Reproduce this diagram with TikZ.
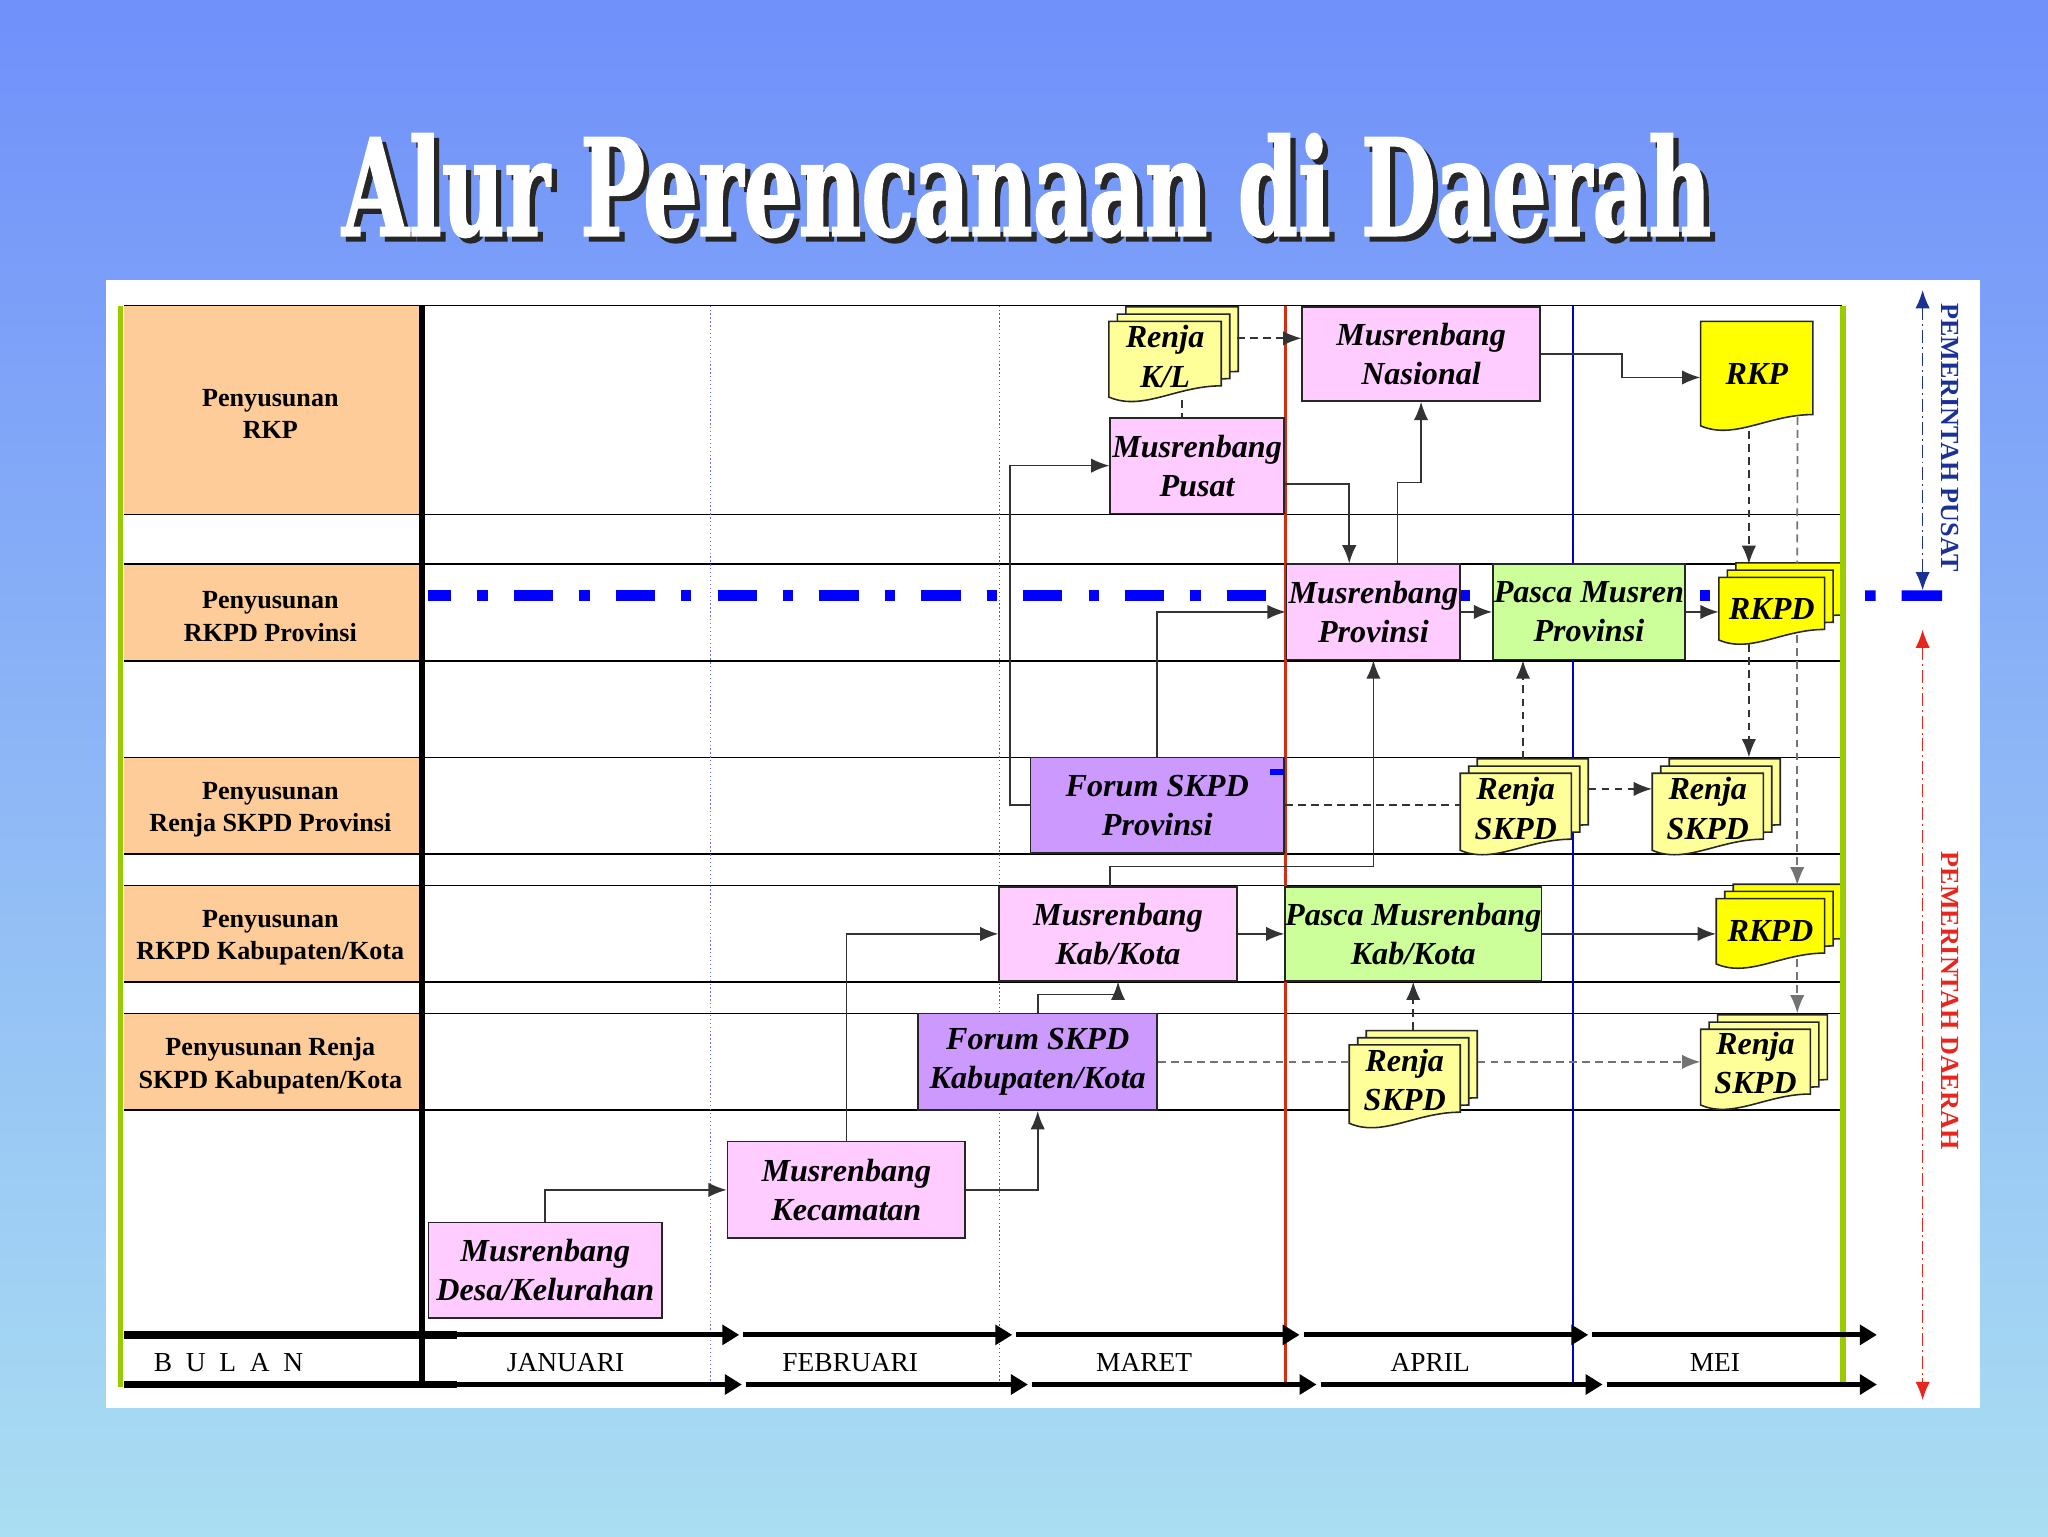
\documentclass[tikz,border=0pt]{standalone}
\usepackage{graphicx}
\usepackage{fontspec}
\setmainfont{Liberation Serif}
\newfontfamily\judulfont[FakeBold=1.5]{DejaVu Serif}
\usepackage{tikz}
\usetikzlibrary{calc,arrows.meta}

\definecolor{latar1}{RGB}{112,144,250}
\definecolor{latar2}{RGB}{170,222,242}
\definecolor{oranye}{RGB}{253,204,153}
\definecolor{merahmuda}{RGB}{255,204,255}
\definecolor{ungu}{RGB}{204,153,255}
\definecolor{hijaumuda}{RGB}{204,255,153}
\definecolor{kuningmuda}{RGB}{255,255,153}
\definecolor{kuning}{RGB}{255,255,0}
\definecolor{hijaugaris}{RGB}{153,204,0}
\definecolor{merahbulan}{RGB}{208,48,16}
\definecolor{birubulan}{RGB}{0,0,204}
\definecolor{birutitik}{RGB}{110,110,230}
\definecolor{hijautitik}{RGB}{0,160,0}
\definecolor{birupusat}{RGB}{26,50,150}
\definecolor{merahdaerah}{RGB}{232,38,30}

\newcommand{\hurufkotak}{\fontsize{24.6}{30}\selectfont\bfseries\itshape}
\newcommand{\hurufkepala}{\fontsize{20}{25}\selectfont\bfseries}
\newcommand{\hurufbulan}{\fontsize{21}{25}\selectfont}
\newcommand{\hurufpemerintah}{\fontsize{20}{24}\selectfont\bfseries}
\newcommand{\teksjudul}{\resizebox{1048pt}{78pt}{\judulfont\bfseries Alur Perencanaan di Daerah}}

% satu lembar dokumen: x, y, lebar, tinggi, warna
\newcommand{\lembar}[5]{%
	\filldraw[fill=#5,draw=black!85,line width=1.2pt]
	({#1},{#2}) -- ({#1+#3},{#2}) -- ({#1+#3},{#2+#4-0.1*#3})
	.. controls ({#1+0.6*#3},{#2+#4-0.1*#3}) and ({#1+0.3*#3},{#2+#4+0.13*#3})
	.. ({#1},{#2+#4}) -- cycle;}
% tumpukan tiga lembar
\newcommand{\tumpuk}[5]{%
	\lembar{#1+13}{#2-11}{#3}{#4}{#5}
	\lembar{#1+6.5}{#2-5.5}{#3}{#4}{#5}
	\lembar{#1}{#2}{#3}{#4}{#5}}

\begin{document}
\begin{tikzpicture}[x=1pt,y=-1pt,>={Latex[length=14pt,width=11pt]},
	kotak/.style={draw=black!85,line width=1.2pt,inner sep=0pt,align=center,font=\hurufkotak},
	teksdok/.style={inner sep=0pt,align=center,font=\hurufkotak},
	kepala/.style={align=center,font=\hurufkepala},
	bulan/.style={font=\hurufbulan},
	garis/.style={black!80,line width=1.3pt},
	putus/.style={black!80,line width=1.3pt,dash pattern=on 6pt off 4pt},
	waktu/.style={line width=4pt,-{Triangle[length=13pt,width=15pt]}}]
	\useasboundingbox (0,0) rectangle (1568,1176);
	\shade[top color=latar1,bottom color=latar2] (0,0) rectangle (1568,1176); %latar
	\fill[white] (81,214) rectangle (1516,1078); %panel
	\node[inner sep=0pt] (judul) at (786,144) {\rlap{\hspace{4pt}\raisebox{-4pt}{\color{black!85}\teksjudul}}\color{white}\teksjudul}; %judul

	\foreach \a/\b in {234/394,432/506,580/654,678/752,776/850}{ %kolom kiri
		\fill[oranye] (95,\a) rectangle (321,\b);
	}
	\foreach \y in {234,394,432,506,580,654,678,752,776,850}{ %baris
		\draw[line width=1.2pt] (95,\y) -- (1410,\y);
	}
	\draw[birutitik,dotted,line width=1pt] (544,234) -- (544,1060); %batas bulan
	\draw[hijautitik,dotted,line width=1pt] (765,234) -- (765,1060);
	\draw[merahbulan,line width=2pt] (984,234) -- (984,1060);
	\draw[birubulan,line width=1.6pt] (1204,234) -- (1204,1060);
	\draw[blue,line width=8pt,dash pattern=on 30pt off 20pt on 8pt off 20pt,dash phase=12.6pt] (328,456) -- (1410,456); %pusat/daerah
	\fill[blue] (1428,452) rectangle (1436,460) (1456,452) rectangle (1487,460);

	\node[kepala] (kRKP) at (207,317) {Penyusunan\\RKP};
	\node[kepala] (kRKPDprov) at (207,472) {Penyusunan\\RKPD Provinsi};
	\node[kepala] (kRenjaProv) at (207,620) {Penyusunan\\Renja SKPD Provinsi};
	\node[kepala] (kRKPDkab) at (207,718) {Penyusunan\\RKPD Kabupaten/Kota};
	\node[kepala] (kRenjaKab) at (207,816) {Penyusunan Renja\\SKPD Kabupaten/Kota};

	% kotak kegiatan
	\node[kotak,fill=merahmuda,minimum width=182,minimum height=72] (musNas) at (1088,271) {Musrenbang\\Nasional};
	\node[kotak,fill=merahmuda,minimum width=133,minimum height=73] (musPusat) at (916.5,356.5) {Musrenbang\\Pusat};
	\node[kotak,fill=merahmuda,minimum width=133,minimum height=73] (musProv) at (1051.5,468.5) {Musrenbang\\Provinsi};
	\node[kotak,fill=hijaumuda,minimum width=147,minimum height=73] (pascaProv) at (1216.5,468.5) {Pasca Musren\\Provinsi};
	\node[kotak,fill=ungu,minimum width=194,minimum height=73] (forumProv) at (886,616.5) {Forum SKPD\\Provinsi};
	\node[kotak,fill=merahmuda,minimum width=182,minimum height=72] (musKab) at (856,715) {Musrenbang\\Kab/Kota};
	\node[kotak,fill=hijaumuda,minimum width=194,minimum height=72] (pascaKab) at (1082,715) {Pasca Musrenbang\\Kab/Kota};
	\node[kotak,fill=ungu,minimum width=183,minimum height=74] (forumKab) at (794.5,813) {Forum SKPD\\Kabupaten/Kota};
	\node[kotak,fill=merahmuda,minimum width=182,minimum height=74] (musKec) at (648,911) {Musrenbang\\Kecamatan};
	\node[kotak,fill=merahmuda,minimum width=179,minimum height=73] (musDesa) at (417.5,972.5) {Musrenbang\\Desa/Kelurahan};
	\fill[blue] (972,589) rectangle (983,593);

	% dokumen
	\tumpuk{849}{246}{86}{58}{kuningmuda}
	\node[teksdok,minimum width=86,minimum height=54] (renjaKL) at (892,273) {Renja\\K/L};
	\lembar{1302}{246}{86}{80}{kuning}
	\node[teksdok,minimum width=86,minimum height=80] (rkp) at (1345,286) {RKP};
	\tumpuk{1316}{442}{81}{48}{kuning}
	\node[teksdok,minimum width=81,minimum height=48] (rkpdProv) at (1356.5,466) {RKPD};
	\tumpuk{1118}{592}{85}{59}{kuningmuda}
	\node[teksdok,minimum width=85,minimum height=56] (renjaProv1) at (1160.5,619) {Renja\\SKPD};
	\tumpuk{1265}{592}{85}{59}{kuningmuda}
	\node[teksdok,minimum width=85,minimum height=56] (renjaProv2) at (1307.5,619) {Renja\\SKPD};
	\tumpuk{1314}{688}{83}{50}{kuning}
	\node[teksdok,minimum width=83,minimum height=50] (rkpdKab) at (1355.5,713) {RKPD};
	\tumpuk{1033}{800}{85}{60}{kuningmuda}
	\node[teksdok,minimum width=85,minimum height=56] (renjaKab1) at (1075.5,827) {Renja\\SKPD};
	\tumpuk{1302}{788}{84}{58}{kuningmuda}
	\node[teksdok,minimum width=84,minimum height=54] (renjaKab2) at (1344,814) {Renja\\SKPD};

	% alur
	\draw[garis,->] (musDesa.north) |- (musKec.west);
	\draw[garis,->] (musKec.north) |- (musKab.west);
	\draw[garis,->] (musKec.east) -| (forumKab.south);
	\draw[garis,->] (forumKab.north) -- ++(0,-14) -| (musKab.south);
	\draw[garis,->] ($(musKab.north)+(-6,0)$) -- ++(0,-15) -| (musProv.south);
	\draw[garis,->] (musKab.east) -- (pascaKab.west);
	\draw[garis,->] (pascaKab.east) -- (pascaKab.east -| rkpdKab.west);
	\draw[garis,->] (forumProv.west) -- ++(-15,0) |- (musPusat.west);
	\draw[garis,->] (forumProv.north) |- (musProv.west);
	\draw[garis,->] ($(musPusat.east)+(0,14)$) -| ($(musProv.north)+(-18.5,0)$);
	\draw[garis,->] ($(musProv.north)+(18.5,0)$) -- ++(0,-62) -| (musNas.south);
	\draw[garis,->] (musProv.east) -- (pascaProv.west);
	\draw[garis,->] (pascaProv.east) -- (pascaProv.east -| rkpdProv.west);
	\draw[garis,->] (musNas.east) -- ++(62,0) |- ($(rkp.west)+(0,3)$);
	\draw[putus,->] ($(renjaKL.east)+(12,-14)$) -- ($(renjaKL.east -| musNas.west)+(0,-14)$);
	\draw[putus] ($(renjaKL.south)+(13,6)$) -- ($(renjaKL.south |- musPusat.north)+(13,0)$);
	\draw[putus,->] ($(rkp.south)+(-6,4)$) -- ($(rkpdProv.north)+(-17.5,-10)$);
	\draw[putus,->] ($(rkpdProv.south)+(-17.5,3)$) -- ($(renjaProv2.north)+(31.5,-11)$);
	\draw[putus,black!55] ($(rkp.south east)+(-12,-7)$) -- ($(rkpdProv.north)+(19.5,-10)$);
	\draw[putus,black!55,->] ($(rkpdProv.south)+(19.5,-4)$) -- ($(rkpdKab.north)+(20.5,-10)$);
	\draw[putus,black!55,->] ($(rkpdKab.south)+(20.5,-4)$) -- ($(renjaKab2.north)+(32,-11)$);
	\draw[putus] (forumProv.east) -- (forumProv.east -| renjaProv1.west);
	\draw[putus,->] ($(renjaProv1.east)+(13,-15)$) -- ($(renjaProv2.west)+(0,-15)$);
	\draw[putus,->] ($(renjaProv1.north)+(5.5,-10)$) -- ($(pascaProv.south)+(-50.5,0)$);
	\draw[putus,black!55] (forumKab.east) -- (forumKab.east -| renjaKab1.west);
	\draw[putus,black!55,->] ($(renjaKab1.east)+(13,-14)$) -- ($(renjaKab1.east -| renjaKab2.west)+(0,-14)$);
	\draw[putus,->] ($(renjaKab1.north)+(6.5,-10)$) -- (pascaKab.south);

	% garis tepi dan waktu
	\draw[line width=5pt] (323,234) -- (323,1060);
	\draw[hijaugaris,line width=4pt] (92,234) -- (92,1062);
	\draw[hijaugaris,line width=5pt] (1411,234) -- (1411,1060);
	\draw[line width=6pt] (95,1022) -- (350,1022) (95,1060) -- (350,1060);
	\foreach \a/\b in {345/566,569/775,778/995,998/1216,1219/1437}{
		\draw[waktu] (\a,1022) -- (\b,1022);
	}
	\foreach \a/\b in {345/568,571/787,790/1008,1011/1227,1230/1437}{
		\draw[waktu] (\a,1060) -- (\b,1060);
	}
	\node[bulan] (bln) at (175,1043) {B\ \ U\ \ L\ \ A\ \ N};
	\foreach \nama/\x in {JANUARI/433,FEBRUARI/651,MARET/876,APRIL/1095,MEI/1313}{
		\node[bulan] (\nama) at (\x,1043) {\nama};
	}

	% keterangan kanan
	\draw[birupusat,line width=1.3pt,dash pattern=on 10pt off 3pt on 1.5pt off 3pt,<->] (1472,222) -- (1472,452);
	\draw[merahdaerah,line width=1.3pt,dash pattern=on 10pt off 3pt on 1.5pt off 3pt,<->] (1472,482) -- (1472,1072);
	\node[rotate=-90,font=\hurufpemerintah,text=birupusat] (pusat) at (1493,335) {PEMERINTAH PUSAT};
	\node[rotate=-90,font=\hurufpemerintah,text=merahdaerah] (daerah) at (1493,766) {PEMERINTAH DAERAH};
\end{tikzpicture}
\end{document}
